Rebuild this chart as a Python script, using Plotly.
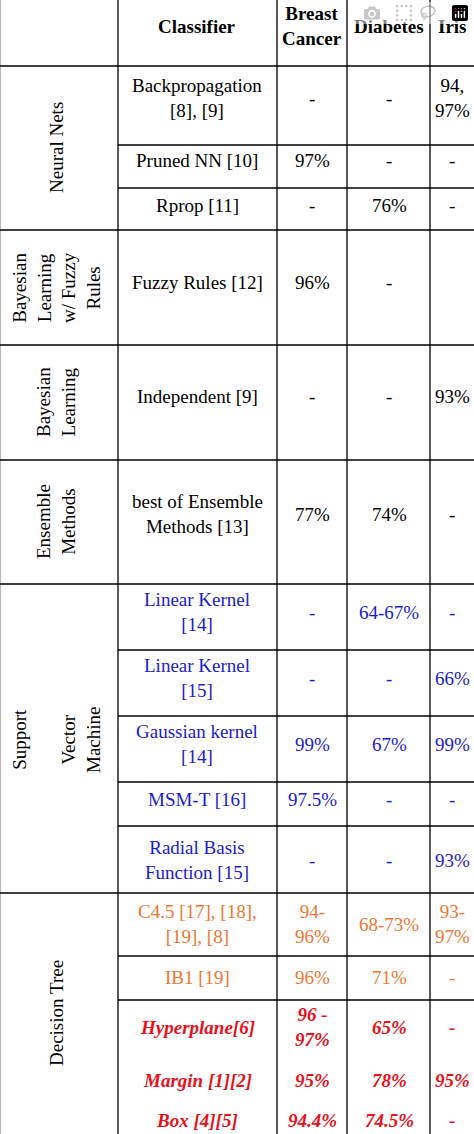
import plotly.graph_objects as go

# table content
headers = ["Classifier", "Breast<br>Cancer", "Diabetes", "Iris"]
groups = ["Neural Nets", "Bayesian<br>Learning<br>w/ Fuzzy<br>Rules", "Bayesian<br>Learning",
          "Ensemble<br>Methods", "Support<br><br>Vector<br>Machine", "Decision Tree"]
classifiers = ["Backpropagation<br>[8], [9]", "Pruned NN [10]", "Rprop [11]",
               "Fuzzy Rules [12]", "Independent [9]", "best of Ensemble<br>Methods [13]",
               "Linear Kernel<br>[14]", "Linear Kernel<br>[15]", "Gaussian kernel<br>[14]",
               "MSM-T [16]", "Radial Basis<br>Function [15]",
               "C4.5 [17], [18],<br>[19], [8]", "IB1 [19]",
               "<b><i>Hyperplane[6]</i></b>", "<b><i>Margin [1][2]</i></b>", "<b><i>Box [4][5]</i></b>"]
breast = ["-", "97%", "-", "96%", "-", "77%", "-", "-", "99%", "97.5%", "-",
          "94-<br>96%", "96%", "<b><i>96 -<br>97%</i></b>", "<b><i>95%</i></b>", "<b><i>94.4%</i></b>"]
diabetes = ["-", "-", "76%", "-", "-", "74%", "64-67%", "-", "67%", "-", "-",
            "68-73%", "71%", "<b><i>65%</i></b>", "<b><i>78%</i></b>", "<b><i>74.5%</i></b>"]
iris = ["94,<br>97%", "-", "-", "", "93%", "-", "-", "66%", "99%", "-", "93%",
        "93-<br>97%", "-", "<b><i>-</i></b>", "<b><i>95%</i></b>", "<b><i>-</i></b>"]
kinds = ["k"] * 6 + ["svm"] * 5 + ["dt"] * 2 + ["new"] * 3

# layout geometry (pixels)
W, H = 474, 1134
col_x = [118, 277, 347, 430]
col_mid = [197, 312, 389, 452]
head_mid = [197, 312, 389, 452]
row_y = [98, 160, 205, 282, 396, 514, 612, 678, 744, 799, 860, 924, 977, 1027, 1080, 1120]
group_y = [148, 288, 402, 522, 740, 1013]
group_lines = [66, 230, 345, 460, 584, 893]
sub_lines = [145, 188, 650, 716, 782, 826, 956, 1000]
colors = {"k": "black", "svm": "#1c1ccc", "dt": "#ee7733", "new": "#e8101a"}
font = "Liberation Serif"

fig = go.Figure()
fig.add_trace(go.Scatter(x=[0, W], y=[0, H], mode="markers", marker=dict(opacity=0),
                         hoverinfo="skip", showlegend=False))

lc = dict(color="black", width=1.3)
for x in col_x:
    fig.add_shape(type="line", x0=x, x1=x, y0=0, y1=H, line=lc)
fig.add_shape(type="line", x0=0.5, x1=0.5, y0=0, y1=H, line=dict(color="#bbbbbb", width=1.3))
for y in group_lines:
    fig.add_shape(type="line", x0=0, x1=W, y0=y, y1=y, line=lc)
for y in sub_lines:
    fig.add_shape(type="line", x0=col_x[0], x1=W, y0=y, y1=y, line=lc)

def txt(x, y, s, color="black", angle=0, size=19):
    fig.add_annotation(x=x, y=y, text=s, showarrow=False, textangle=angle,
                       font=dict(family=font, size=size, color=color), xanchor="center", yanchor="middle")

for x, h in zip(head_mid, headers):
    txt(x, 26, "<b>" + h + "</b>")
for y, g in zip(group_y, groups):
    txt(56, y, g, angle=-90)
for i, y in enumerate(row_y):
    c = colors[kinds[i]]
    txt(col_mid[0], y, classifiers[i], c)
    txt(col_mid[1], y, breast[i], c)
    txt(col_mid[2], y, diabetes[i], c)
    txt(col_mid[3], y, iris[i], c)

fig.update_xaxes(range=[0, W], visible=False, fixedrange=True)
fig.update_yaxes(range=[H, 0], visible=False, fixedrange=True)
fig.update_layout(width=W, height=H, margin=dict(l=0, r=0, t=0, b=0),
                  plot_bgcolor="white", paper_bgcolor="white")
fig.write_html("out.html")

# drop the default page margin so the table fills the window
with open("out.html") as f:
    page = f.read()
page = page.replace("<body>", "<body style=\"margin:0;overflow:hidden\">", 1)
with open("out.html", "w") as f:
    f.write(page)
